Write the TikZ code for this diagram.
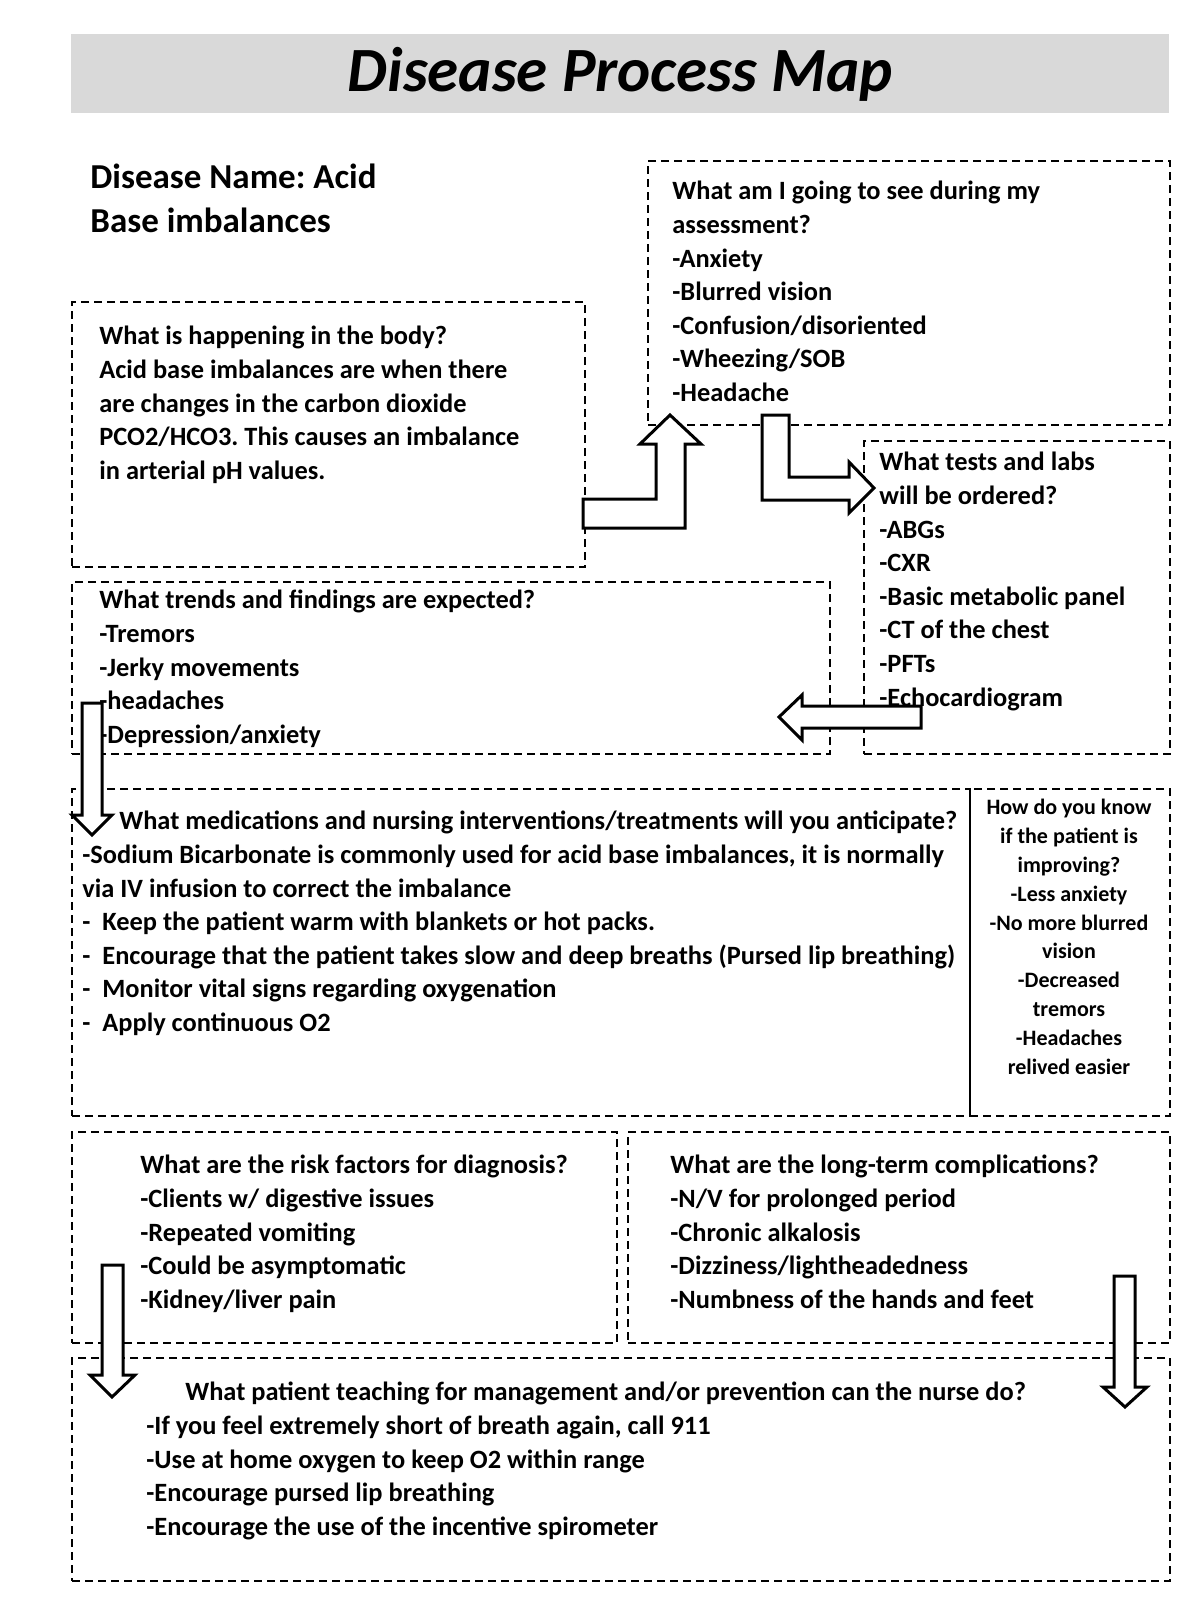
\documentclass[tikz,border=0pt]{standalone}
\usepackage{fontspec}
\setmainfont{Carlito}
\usepackage{xcolor}
\definecolor{bandgray}{HTML}{D9D9D9}
\frenchspacing

\begin{document}
\begin{tikzpicture}[
  x=0.5pt, y=-0.5pt,
  band/.style={fill=bandgray, draw=none, anchor=north west, inner sep=0pt,
    font=\fontsize{31.5}{38}\selectfont\bfseries\itshape},
  box/.style={draw, line width=1.1pt, dash pattern=on 4pt off 2.5pt,
    anchor=north west, inner sep=0pt},
  boxtext/.style={anchor=north west, align=left, inner sep=0pt,
    font=\fontsize{13.2}{16.8}\selectfont\bfseries},
  sidetext/.style={anchor=north, align=center, inner sep=0pt,
    font=\fontsize{11}{14.4}\selectfont\bfseries},
  nametext/.style={anchor=north west, align=left, inner sep=0pt,
    font=\fontsize{17.5}{22}\selectfont\bfseries},
  blockarrow/.style={draw, fill=white, line width=1.5pt, line join=miter}
]
  \useasboundingbox (0,0) rectangle (1200,1600);

  % Title band.
  \node[band, minimum width=549pt, minimum height=39.5pt] (title) at (71,34)
    {Disease Process Map};
  \node[nametext] (name) at (90,164) {Disease Name: Acid\\Base imbalances};

  % Dashed boxes.
  \node[box, minimum width=261pt, minimum height=132pt] (assess) at (647,160) {};
  \node[box, minimum width=256.5pt, minimum height=132.5pt] (body) at (71,301) {};
  \node[box, minimum width=153pt, minimum height=156.5pt] (tests) at (863,440) {};
  \node[box, minimum width=379pt, minimum height=86pt] (trends) at (71,581) {};
  \node[box, minimum width=449pt, minimum height=163.5pt] (meds) at (71,788) {};
  \node[box, minimum width=100pt, minimum height=163.5pt] (improve) at (969,788) {};
  \node[box, minimum width=272.5pt, minimum height=105.5pt] (risk) at (71,1131) {};
  \node[box, minimum width=271pt, minimum height=105.5pt] (longterm) at (627,1131) {};
  \node[box, minimum width=549pt, minimum height=111.5pt] (teach) at (71,1357) {};

  % Box texts.
  \node[boxtext] (assesstext) at (672,181)
    {What am I going to see during my\\assessment?\\-Anxiety\\-Blurred vision\\
     -Confusion/disoriented\\-Wheezing/SOB\\-Headache};
  \node[boxtext] (bodytext) at (99,326)
    {What is happening in the body?\\Acid base imbalances are when there\\
     are changes in the carbon dioxide\\PCO2/HCO3. This causes an imbalance\\
     in arterial pH values.};
  \node[boxtext] (teststext) at (879,452)
    {What tests and labs\\will be ordered?\\-ABGs\\-CXR\\-Basic metabolic panel\\
     -CT of the chest\\-PFTs\\-Echocardiogram};
  \node[boxtext] (trendstext) at (99,590)
    {What trends and findings are expected?\\-Tremors\\-Jerky movements\\
     -headaches\\-Depression/anxiety};
  \node[boxtext] (medstext) at (82,811)
    {\hspace*{18.5pt}What medications and nursing interventions/treatments will you anticipate?\\
     -Sodium Bicarbonate is commonly used for acid base imbalances, it is normally\\
     via IV infusion to correct the imbalance\\
     -\ \ Keep the patient warm with blankets or hot packs.\\
     -\ \ Encourage that the patient takes slow and deep breaths (Pursed lip breathing)\\
     -\ \ Monitor vital signs regarding oxygenation\\
     -\ \ Apply continuous O2};
  \node[sidetext] (improvetext) at (1069,799)
    {How do you know\\if the patient is\\improving?\\-Less anxiety\\-No more blurred\\
     vision\\-Decreased\\tremors\\-Headaches\\relived easier};
  \node[boxtext] (risktext) at (140,1155)
    {What are the risk factors for diagnosis?\\-Clients w/ digestive issues\\
     -Repeated vomiting\\-Could be asymptomatic\\-Kidney/liver pain};
  \node[boxtext] (longtermtext) at (670,1155)
    {What are the long-term complications?\\-N/V for prolonged period\\
     -Chronic alkalosis\\-Dizziness/lightheadedness\\-Numbness of the hands and feet};
  \node[boxtext] (teachtext) at (146,1382)
    {\hspace*{19.5pt}What patient teaching for management and/or prevention can the nurse do?\\
     -If you feel extremely short of breath again, call 911\\
     -Use at home oxygen to keep O2 within range\\
     -Encourage pursed lip breathing\\
     -Encourage the use of the incentive spirometer};

  % Block arrows between the boxes.
  \draw[blockarrow] (583,499) -- (656,499) -- (656,444) -- (640,444) -- (670,415)
    -- (701,444) -- (685,444) -- (685,528) -- (583,528) -- cycle;
  \draw[blockarrow] (762,415) -- (789,415) -- (789,477) -- (849,477) -- (849,462)
    -- (874,488) -- (849,513) -- (849,500) -- (762,500) -- cycle;
  \draw[blockarrow] (921,706) -- (802,706) -- (802,695) -- (779,717) -- (802,740)
    -- (802,728) -- (921,728) -- cycle;
  \draw[blockarrow] (82,703) -- (102,703) -- (102,815) -- (112,815) -- (92,835)
    -- (72,815) -- (82,815) -- cycle;
  \draw[blockarrow] (102,1265) -- (123,1265) -- (123,1375) -- (135,1375) -- (112,1397)
    -- (90,1375) -- (102,1375) -- cycle;
  \draw[blockarrow] (1114,1276) -- (1135,1276) -- (1135,1387) -- (1147,1387) -- (1125,1407)
    -- (1103,1387) -- (1114,1387) -- cycle;
\end{tikzpicture}
\end{document}
